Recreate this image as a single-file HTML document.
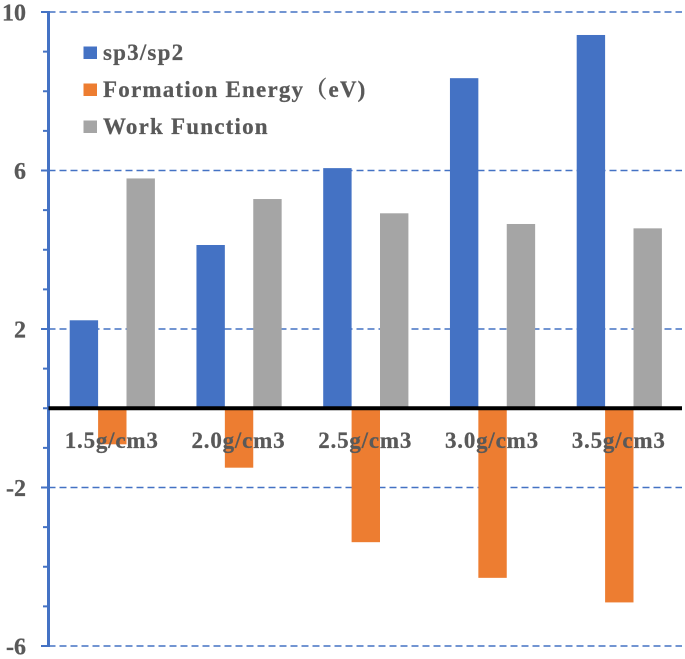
<!DOCTYPE html>
<html>
<head>
<meta charset="utf-8">
<style>
html,body{margin:0;padding:0;background:#fff;}
svg{display:block;}
text{font-family:"Liberation Serif","Noto Serif CJK SC",serif;font-weight:bold;fill:#595959;stroke:#595959;stroke-width:0.25;}
</style>
</head>
<body>
<svg id="chart" width="685" height="659" viewBox="0 0 685 659" xmlns="http://www.w3.org/2000/svg">
<g id="grid"></g>
<g id="bars"></g>
<g id="axes"></g>
<g id="labels"></g>
<g id="legend"></g>
</svg>
<script>
const categories = ['1.5g/cm3', '2.0g/cm3', '2.5g/cm3', '3.0g/cm3', '3.5g/cm3'];
const seriesNames = ['sp3/sp2', 'Formation Energy（eV)', 'Work Function'];
const sp3sp2 = [2.22, 4.12, 6.06, 8.33, 9.42];
const formationEnergy = [-0.91, -1.5, -3.38, -4.28, -4.9];
const workFunction = [5.8, 5.28, 4.92, 4.65, 4.54];
const yTickLabels = [10, 6, 2, -2, -6];
const yMinorTicks = [9, 8, 7, 5, 4, 3, 1, 0, -1, -3, -4, -5];

const NS = 'http://www.w3.org/2000/svg';
const colors = ['#4472c4', '#ed7d31', '#a5a5a5'];
const plotLeft = 48.5, plotRight = 682;
const yAxisMax = 10, yAxisMin = -6, yTop = 12, yBottom = 646;
const bandWidth = 126.75, barWidth = 28.4, barOffset = 21.2;

function y(v) {
  return yTop + (yAxisMax - v) * (yBottom - yTop) / (yAxisMax - yAxisMin);
}
function bandX(i) {
  return plotLeft + i * bandWidth;
}
function el(tag, attrs, parent) {
  const e = document.createElementNS(NS, tag);
  for (const k in attrs) e.setAttribute(k, attrs[k]);
  parent.appendChild(e);
  return e;
}

const gridG = document.getElementById('grid');
const barsG = document.getElementById('bars');
const axesG = document.getElementById('axes');
const labelsG = document.getElementById('labels');
const legendG = document.getElementById('legend');

yTickLabels.forEach(function (t) {
  const line = el('line', {x1: plotLeft, x2: plotRight, y1: y(t), y2: y(t), stroke: '#4472c4', 'stroke-width': 1.6, 'stroke-dasharray': '7 4'}, gridG);
  
  
});

[sp3sp2, formationEnergy, workFunction].forEach(function (values, s) {
  values.forEach(function (v, i) {
    const top = y(Math.max(v, 0)), bottom = y(Math.min(v, 0));
    const r = el('rect', {x: bandX(i) + barOffset + s * barWidth, y: top, width: barWidth, height: bottom - top, fill: colors[s]}, barsG);
    
    
  });
});

const yAxisLine = el('line', {x1: plotLeft, x2: plotLeft, y1: y(yAxisMax) - 1, y2: y(yAxisMin) + 1, stroke: '#4472c4', 'stroke-width': 3}, axesG);



yMinorTicks.forEach(function (t) {
  const tick = el('line', {x1: 43, x2: plotLeft, y1: y(t), y2: y(t), stroke: '#4472c4', 'stroke-width': 2}, axesG);
  
  
});

yTickLabels.forEach(function (t) {
  const tick = el('line', {x1: 41, x2: plotLeft, y1: y(t), y2: y(t), stroke: '#4472c4', 'stroke-width': 2}, axesG);
  
  
  const label = el('text', {x: 26, y: y(t) + 8.5, 'text-anchor': 'end', 'font-size': 24}, labelsG);
  label.textContent = String(t);
  
  
});

const zeroLine = el('line', {x1: plotLeft, x2: plotRight, y1: y(0), y2: y(0), stroke: '#000', 'stroke-width': 4}, axesG);



categories.forEach(function (c, i) {
  const label = el('text', {x: bandX(i) + 63.2, y: 448, 'text-anchor': 'middle', 'font-size': 23, 'letter-spacing': 0.8}, labelsG);
  label.textContent = c;
  
  
});

seriesNames.forEach(function (name, s) {
  const top = 46.5 + s * 37;
  const swatch = el('rect', {x: 83.5, y: top, width: 13.5, height: 12.5, fill: colors[s]}, legendG);
  
  
  const label = el('text', {x: 103, y: top + 13.5, 'font-size': 23, 'letter-spacing': 1.2}, legendG);
  label.textContent = name;
  
  
});
</script>
</body>
</html>
